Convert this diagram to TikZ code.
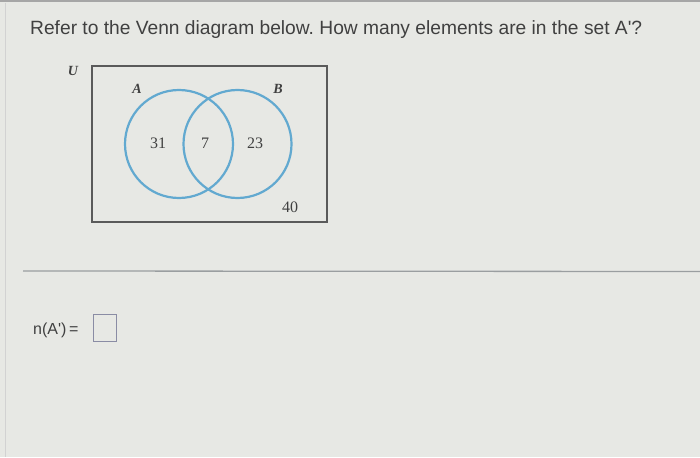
\documentclass[tikz,border=0pt]{standalone}
\usepackage{fontspec}
\setmainfont{Liberation Serif}
\newfontfamily\arialf{Liberation Sans}
\frenchspacing
\definecolor{bgc}{HTML}{E7E8E4}
\definecolor{txtc}{HTML}{404040}
\definecolor{venn}{HTML}{62A9D0}
\definecolor{framec}{HTML}{5A5A5A}
\definecolor{rulec}{HTML}{9A9EA0}
\definecolor{boxc}{HTML}{8A8CA4}
\tikzset{
  sans/.style={font=\arialf\fontsize{19.2}{22}\selectfont, text=txtc, inner sep=0pt, anchor=base west},
  num/.style={font=\fontsize{16}{18}\selectfont, text=txtc, inner sep=0pt},
  setlbl/.style={font=\bfseries\itshape\fontsize{14}{16}\selectfont, text=txtc, inner sep=0pt},
  vennc/.style={draw=venn, line width=2.2pt},
}
\begin{document}
\begin{tikzpicture}[x=1pt,y=-1pt]
\fill[bgc] (0,0) rectangle (700,457);
\useasboundingbox (0,0) rectangle (700,457);
\fill[gray!70] (0,0) rectangle (700,2.5);
\draw[gray!35, line width=1pt] (5,3) -- (5,457);
\node[sans] (title) at (30,35) {Refer to the Venn diagram below. How many elements are in the set A'?};
% universe
\node[draw=framec, line width=1.4pt, minimum width=235pt, minimum height=156pt, inner sep=0pt] (U) at (209.5,144) {};
\node[setlbl] (ul) at (73,71) {U};
\node[vennc, circle, minimum size=108pt, inner sep=0pt] (A) at (179,144) {};
\node[vennc, circle, minimum size=108pt, inner sep=0pt] (B) at (237.5,144) {};
\node[setlbl] (al) at (137,89) {A};
\node[setlbl] (bl) at (278,89) {B};
\node[num] (n31) at (158,143) {31};
\node[num] (n7) at (205,143) {7};
\node[num] (n23) at (255,143) {23};
\node[num] (n40) at (290,207) {40};
% rule
\coordinate (r1) at (23,271);
\coordinate (r2) at (700,271.5);
\draw[rulec, line width=1.3pt] (r1) -- (r2);
% answer
\node[sans, font=\arialf\fontsize{16}{18}\selectfont] (ans) at (33,334) {n(A')\,=};
\node[draw=boxc, line width=1pt, minimum width=23pt, minimum height=27pt, inner sep=0pt] (box) at (105,328) {};
\end{tikzpicture}
\end{document}
